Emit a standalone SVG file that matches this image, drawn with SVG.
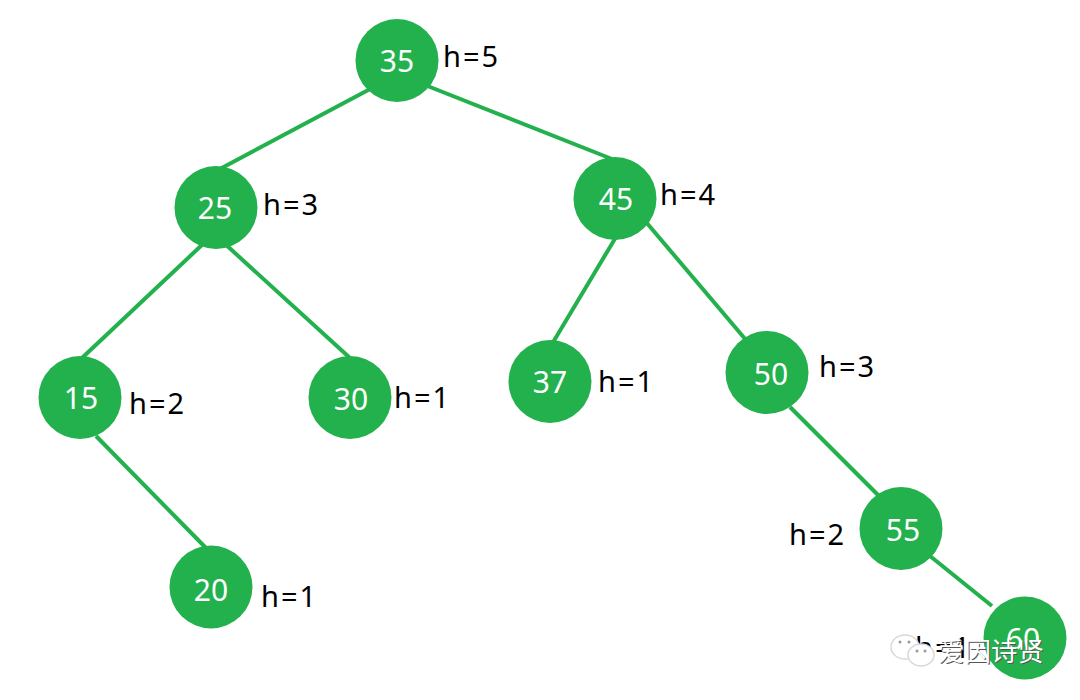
<svg xmlns="http://www.w3.org/2000/svg" width="1080" height="700" viewBox="0 0 1080 700">
<style>
.e{stroke:#22b14c;stroke-width:4;fill:none}
.c{fill:#22b14c}
.n{font:30px "Noto Sans","Open Sans",sans-serif;fill:#fff;text-anchor:middle}
.h{font:29px "Noto Sans","Open Sans",sans-serif;fill:#000;letter-spacing:2px}
.w{font:26.5px "Noto Sans CJK SC",sans-serif;fill:#fff}
.ws{font:26.5px "Noto Sans CJK SC",sans-serif;fill:#555}
.b{fill:#fff;stroke:#d8d8d8;stroke-width:1.500}
.d{fill:#999}
</style>
<rect width="1080" height="700" fill="#fff"/>
<g id="connectors">
<line class="e" x1="372" y1="88" x2="218" y2="170"/>
<line class="e" x1="425" y1="85" x2="612" y2="159"/>
<line class="e" x1="204" y1="243" x2="82" y2="358"/>
<line class="e" x1="224" y1="243" x2="350" y2="358"/>
<line class="e" x1="616" y1="237" x2="552" y2="344"/>
<line class="e" x1="646" y1="222" x2="746" y2="340"/>
<line class="e" x1="96" y1="436" x2="206" y2="548"/>
<line class="e" x1="790" y1="407" x2="880" y2="497"/>
<line class="e" x1="930" y1="556" x2="992" y2="606"/>
</g>
<g id="n35"><circle class="c" cx="397" cy="60.500" r="41.500"/><text class="n" x="397" y="72">35</text><text class="h" x="443" y="67">h=5</text></g>
<g id="n25"><circle class="c" cx="216" cy="207.500" r="41.500"/><text class="n" x="215" y="219">25</text><text class="h" x="263" y="215">h=3</text></g>
<g id="n45"><circle class="c" cx="615" cy="198.500" r="41.500"/><text class="n" x="616" y="210">45</text><text class="h" x="660" y="205">h=4</text></g>
<g id="n15"><circle class="c" cx="80" cy="397.500" r="41.500"/><text class="n" x="81" y="409">15</text><text class="h" x="129" y="414">h=2</text></g>
<g id="n30"><circle class="c" cx="350" cy="397.500" r="41.500"/><text class="n" x="351" y="410">30</text><text class="h" x="394" y="408">h=1</text></g>
<g id="n37"><circle class="c" cx="550" cy="381.500" r="41.500"/><text class="n" x="550" y="393">37</text><text class="h" x="598" y="392">h=1</text></g>
<g id="n50"><circle class="c" cx="767" cy="372.500" r="41.500"/><text class="n" x="771" y="385">50</text><text class="h" x="819" y="377">h=3</text></g>
<g id="n20"><circle class="c" cx="211" cy="587" r="41.500"/><text class="n" x="211" y="601">20</text><text class="h" x="261" y="607">h=1</text></g>
<g id="n55"><circle class="c" cx="901" cy="528.500" r="41.500"/><text class="n" x="903" y="541">55</text><text class="h" x="789" y="545">h=2</text></g>
<g id="n60"><circle class="c" cx="1025" cy="638" r="41.500"/><text class="n" x="1023" y="650">60</text><text class="h" x="915" y="658">h=1</text></g>
<g id="watermark">
<ellipse class="b" cx="905" cy="647" rx="14" ry="12"/>
<ellipse class="b" cx="921" cy="655" rx="13" ry="11"/>
<circle class="d" cx="900" cy="642" r="1.500"/><circle class="d" cx="909" cy="642" r="1.500"/>
<circle class="d" cx="917" cy="651" r="1.500"/><circle class="d" cx="925" cy="651" r="1.500"/>
<text class="ws" x="939" y="662">爱因诗贤</text>
<text class="w" x="938" y="661">爱因诗贤</text>
</g>
</svg>
